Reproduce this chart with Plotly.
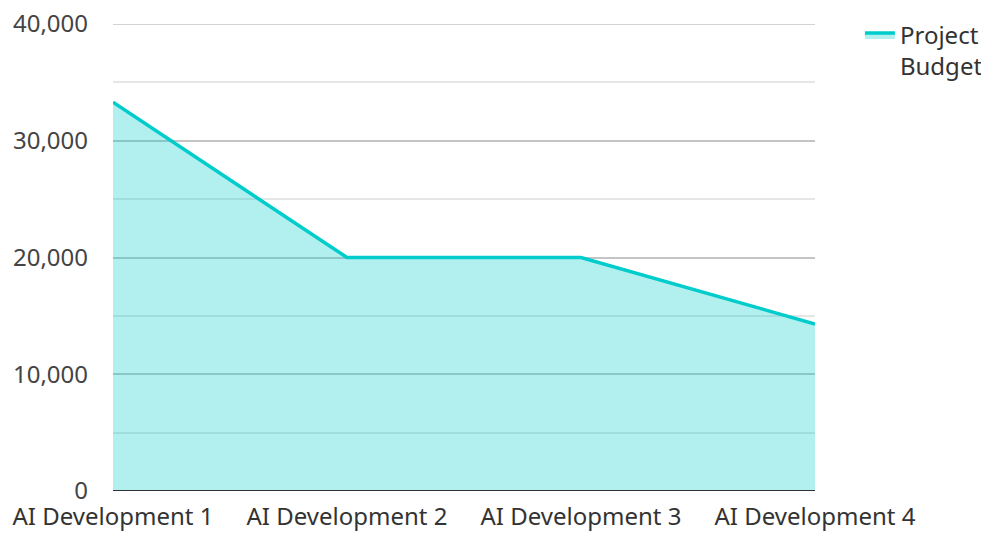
import plotly.graph_objects as go

categories = ["AI Development 1", "AI Development 2", "AI Development 3", "AI Development 4"]
budget = [33300, 20000, 20000, 14300]
series_name = "Project<br>Budget"
y_ticks = [0, 10000, 20000, 30000, 40000]
y_tick_text = ["0", "10,000", "20,000", "30,000", "40,000"]

fig = go.Figure()
fig.add_trace(go.Scatter(
    x=categories, y=budget, name=series_name, mode="lines",
    line=dict(color="#00cccc", width=3.5),
    fill="tozeroy", fillcolor="rgba(0,204,204,0.30)",
))

font = "Noto Sans, Open Sans, sans-serif"
fig.update_layout(
    width=989, height=534,
    margin=dict(l=105, r=182, t=16, b=51, autoexpand=False),
    paper_bgcolor="white", plot_bgcolor="white",
    font=dict(family=font, size=24, color="#444444"),
    showlegend=True,
    legend=dict(x=1.064, y=1.024, xanchor="left", yanchor="top", valign="top",
                font=dict(size=24, color="#333333"), bgcolor="rgba(0,0,0,0)"),
    xaxis=dict(type="category", range=[0, 3], showgrid=False, zeroline=False,
               showline=False, tickfont=dict(size=24, color="#333333"),
               ticks="", ticklabelstandoff=9, automargin=False,
               ticklabeloverflow="allow"),
    yaxis=dict(range=[0, 40000], tickvals=y_ticks, ticktext=y_tick_text,
               showgrid=True, gridcolor="#c4c4c4", gridwidth=1.5,
               minor=dict(dtick=5000, showgrid=True, gridcolor="#e6e6e6", gridwidth=1.5),
               zeroline=False, showline=False, automargin=False,
               ticklabeloverflow="allow", layer="above traces",
               tickfont=dict(size=24, color="#444444"), ticklabelstandoff=24),
)
fig.add_shape(type="line", xref="paper", yref="y", x0=0, x1=1, y0=y_ticks[-1], y1=y_ticks[-1],
              line=dict(color="#c4c4c4", width=1.5), layer="above")
fig.add_shape(type="line", xref="paper", yref="y", x0=0, x1=1, y0=0, y1=0,
              line=dict(color="#333333", width=2), layer="above")

fig.write_html("out.html")
